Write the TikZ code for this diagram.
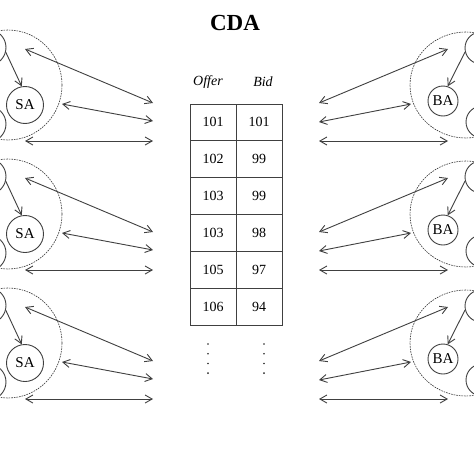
\documentclass[tikz,border=0pt]{standalone}
\usepackage{fontspec}
\setmainfont{Liberation Serif}
\usetikzlibrary{arrows.meta,shapes.geometric}
\tikzset{
  ln/.style={line width=0.9pt, draw=black!75},
  agent/.style={circle, ln, inner sep=0pt, font=\fontsize{15}{15}\selectfont},
  grp/.style={ellipse, draw=black!80, line width=0.6pt, dash pattern=on 1.6pt off 1pt, inner sep=0pt},
  dbl/.style={ln, {Straight Barb[length=7pt,width=8pt]}-{Straight Barb[length=7pt,width=8pt]}},
  sgl/.style={ln, -{Straight Barb[length=7pt,width=8pt]}},
  cell/.style={rectangle, ln, minimum width=46pt, minimum height=36.83pt, inner sep=0pt, font=\fontsize{14}{14}\selectfont},
  hdr/.style={font=\fontsize{14}{14}\selectfont\itshape, inner sep=0pt},
  vdot/.style={circle, fill=black!85, inner sep=0pt, minimum size=1.8pt}
}
\begin{document}
\begin{tikzpicture}[x=1pt,y=-1pt]
\useasboundingbox (0,0) rectangle (474,474);
\clip (0,0) rectangle (474,474);
\fill[white] (0,0) rectangle (474,474);
\node[font=\fontsize{23}{23}\selectfont\bfseries, inner sep=0pt] (title) at (235,23) {CDA};
% table
\node[hdr] (hoffer) at (208,82) {Offer};
\node[hdr] (hbid) at (263,82) {Bid};
\foreach \i/\o/\b in {0/101/101,1/102/99,2/103/99,3/103/98,4/105/97,5/106/94}{
  \node[cell] (o\i) at (213,122.4+36.83*\i) {\o};
  \node[cell] (b\i) at (259,122.4+36.83*\i) {\b};
}
\foreach \j in {0,1,2,3}{
  \node[vdot] (dl\j) at (208,344+9.7*\j) {};
  \node[vdot] (dr\j) at (264,344+9.7*\j) {};
}
% groups
\foreach \g/\d in {1/0,2/129,3/258}{
  % left seller group
  \node[grp, minimum width=108pt, minimum height=110pt] (el\g) at (8,85+\d) {};
  \node[agent, minimum size=36pt] (lt\g) at (-12,47.5+\d) {};
  \node[agent, minimum size=37pt] (sa\g) at (25,105+\d) {SA};
  \node[agent, minimum size=36pt] (lb\g) at (-12,124+\d) {};
  \draw[sgl] (lt\g.-15) -- (sa\g.100);
  \coordinate (la1\g) at (25,49+\d);
  \coordinate (lb1\g) at (153,103+\d);
  \coordinate (la2\g) at (62,104+\d);
  \coordinate (lb2\g) at (153,121+\d);
  \coordinate (la3\g) at (25,141+\d);
  \coordinate (lb3\g) at (153,141+\d);
  \draw[dbl] (la1\g) -- (lb1\g);
  \draw[dbl] (la2\g) -- (lb2\g);
  \draw[dbl] (la3\g) -- (lb3\g);
  % right buyer group
  \node[grp, minimum width=112pt, minimum height=106pt] (er\g) at (466,85+\d) {};
  \node[agent, minimum size=32pt] (rt\g) at (481,48+\d) {};
  \node[agent, minimum size=30pt] (ba\g) at (443,101+\d) {BA};
  \node[agent, minimum size=32pt] (rb\g) at (482,122+\d) {};
  \draw[sgl] (rt\g.194) -- (ba\g.72);
  \coordinate (ra1\g) at (448,49+\d);
  \coordinate (rb1\g) at (319,103+\d);
  \coordinate (ra2\g) at (411,104+\d);
  \coordinate (rb2\g) at (319,122+\d);
  \coordinate (ra3\g) at (448,141+\d);
  \coordinate (rb3\g) at (319,141+\d);
  \draw[dbl] (ra1\g) -- (rb1\g);
  \draw[dbl] (ra2\g) -- (rb2\g);
  \draw[dbl] (ra3\g) -- (rb3\g);
}
\end{tikzpicture}
\end{document}
